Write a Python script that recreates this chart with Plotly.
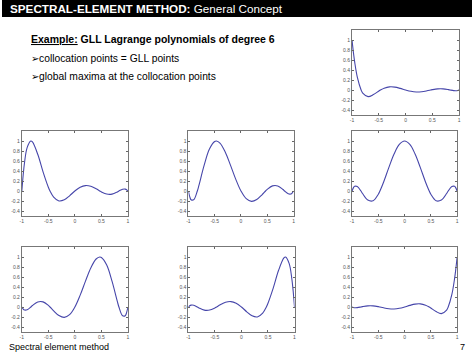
import plotly.graph_objects as go

# Sample positions on [-1, 1] (GLL nodes of degree 6 included)
X = [-1, -0.975, -0.95, -0.9, -0.8302, -0.8, -0.7, -0.6, -0.5, -0.4688, -0.4, -0.3, -0.2, -0.1, 0,
     0.1, 0.2, 0.3, 0.4, 0.4688, 0.5, 0.6, 0.7, 0.8, 0.8302, 0.9, 0.95, 0.975, 1]

# GLL Lagrange polynomials of degree 6 (values read at the sample positions)
L0 = [1, 0.7586, 0.5562, 0.2513, 0, -0.0615, -0.1321, -0.0914, -0.0205, 0, 0.0366, 0.0626, 0.0578, 0.0323, 0,
      -0.0265, -0.0385, -0.0337, -0.0157, 0, 0.0068, 0.0229, 0.0233, 0.0068, 0, -0.0132, -0.0143, -0.0096, 0]
L1 = [0, 0.3158, 0.5598, 0.8683, 1, 0.9810, 0.7340, 0.3829, 0.0749, 0, -0.1230, -0.1992, -0.1769, -0.0961, 0,
      0.0754, 0.1082, 0.0935, 0.0430, 0, -0.0186, -0.0616, -0.0625, -0.0182, 0, 0.0350, 0.0377, 0.0253, 0]
L2 = [0, -0.1128, -0.1740, -0.1755, 0, 0.1118, 0.5164, 0.8393, 0.9911, 1, 0.9596, 0.7812, 0.5178, 0.2376, 0,
      -0.1541, -0.2081, -0.1716, -0.0760, 0, 0.0319, 0.1030, 0.1021, 0.0292, 0, -0.0553, -0.0590, -0.0396, 0]
L3 = [0, 0.0622, 0.0937, 0.0894, 0, -0.0492, -0.1812, -0.1950, -0.0656, 0, 0.1755, 0.4673, 0.7397, 0.9313, 1,
      0.9313, 0.7397, 0.4673, 0.1755, 0, -0.0656, -0.1950, -0.1812, -0.0492, 0, 0.0894, 0.0937, 0.0622, 0]
L4 = [0, -0.0396, -0.0590, -0.0553, 0, 0.0292, 0.1021, 0.1030, 0.0319, 0, -0.0760, -0.1716, -0.2081, -0.1541, 0,
      0.2376, 0.5178, 0.7812, 0.9596, 1, 0.9911, 0.8393, 0.5164, 0.1118, 0, -0.1755, -0.1740, -0.1128, 0]
L5 = [0, 0.0253, 0.0377, 0.0350, 0, -0.0182, -0.0625, -0.0616, -0.0186, 0, 0.0430, 0.0935, 0.1082, 0.0754, 0,
      -0.0961, -0.1769, -0.1992, -0.1230, 0, 0.0749, 0.3829, 0.7340, 0.9810, 1, 0.8683, 0.5598, 0.3158, 0]
L6 = [0, -0.0096, -0.0143, -0.0132, 0, 0.0068, 0.0233, 0.0229, 0.0068, 0, -0.0157, -0.0337, -0.0385, -0.0265, 0,
      0.0323, 0.0578, 0.0626, 0.0366, 0, -0.0205, -0.0914, -0.1321, -0.0615, 0, 0.2513, 0.5562, 0.7586, 1]

X_TICKS = [-1, -0.5, 0, 0.5, 1]
X_TICK_LABELS = ["-1", "-0.5", "0", "0.5", "1"]
Y_TICKS = [-0.4, -0.2, 0, 0.2, 0.4, 0.6, 0.8, 1]
Y_TICK_LABELS = ["-0.4", "-0.2", "0", "0.2", "0.4", "0.6", "0.8", "1"]

TITLE_BOLD = "SPECTRAL-ELEMENT METHOD:"
TITLE_REST = "General Concept"
EXAMPLE_HEAD = "Example:"
EXAMPLE_TEXT = "GLL Lagrange polynomials of degree 6"
BULLETS = ["collocation points = GLL points", "global maxima at the collocation points"]
FOOTER = "Spectral element method"
PAGE = "7"

W, H = 474, 355

# panel boxes in pixels: (left, right, top, bottom)
BOXES = [
    (353, 461, 30, 115),
    (20, 127, 131, 216), (188, 294, 131, 216), (353, 459, 131, 216),
    (20, 127, 247, 332), (188, 295, 247, 332), (353, 459, 247, 332),
]
SERIES = [L0, L1, L2, L3, L4, L5, L6]

fig = go.Figure()
layout = {}
for i, (ys, (l, r, t, b)) in enumerate(zip(SERIES, BOXES), start=1):
    sx = "" if i == 1 else str(i)
    fig.add_trace(go.Scatter(
        x=X, y=ys, mode="lines",
        line=dict(color="#4646aa", width=1.1, shape="spline", smoothing=1.0),
        xaxis="x" + sx, yaxis="y" + sx, showlegend=False, hoverinfo="skip"))
    common = dict(ticks="inside", ticklen=2, tickcolor="#666", tickwidth=1,
                  showline=True, linecolor="#777", linewidth=1, mirror="allticks",
                  showgrid=False, zeroline=False, fixedrange=True,
                  tickfont=dict(size=5, color="#555", family="Arial"))
    layout["xaxis" + sx] = dict(domain=[l / W, r / W], range=[-1, 1], anchor="y" + sx,
                                tickvals=X_TICKS, ticktext=X_TICK_LABELS, **common)
    layout["yaxis" + sx] = dict(domain=[1 - b / H, 1 - t / H], range=[-0.5, 1.2], anchor="x" + sx,
                                tickvals=Y_TICKS, ticktext=Y_TICK_LABELS, **common)

fig.update_layout(**layout)

def py(p):
    return 1 - p / H

annotations = [
    dict(x=6 / W, y=py(9), text="<b>" + TITLE_BOLD + "</b> " + TITLE_REST,
         font=dict(size=11.7, color="white", family="Arial")),
    dict(x=27 / W, y=py(39), text="<b><u>" + EXAMPLE_HEAD + "</u> " + EXAMPLE_TEXT + "</b>",
         font=dict(size=10.5, color="black", family="Arial")),
    dict(x=27 / W, y=py(58), text="➢" + BULLETS[0],
         font=dict(size=10.3, color="black", family="Arial")),
    dict(x=27 / W, y=py(77), text="➢" + BULLETS[1],
         font=dict(size=10.3, color="black", family="Arial")),
    dict(x=5 / W, y=py(347), text=FOOTER,
         font=dict(size=9, color="black", family="Arial")),
    dict(x=469 / W, y=py(347), text=PAGE, xanchor="right",
         font=dict(size=9, color="black", family="Arial")),
]
for a in annotations:
    a.setdefault("xanchor", "left")
    a.update(xref="paper", yref="paper", yanchor="middle", showarrow=False)

fig.update_layout(
    width=W, height=H,
    margin=dict(l=0, r=0, t=0, b=0),
    paper_bgcolor="white", plot_bgcolor="white",
    annotations=annotations,
    shapes=[dict(type="rect", xref="paper", yref="paper", x0=0, x1=1,
                 y0=py(17), y1=1, fillcolor="black", line=dict(width=0), layer="below")],
)

fig.write_html("out.html")
